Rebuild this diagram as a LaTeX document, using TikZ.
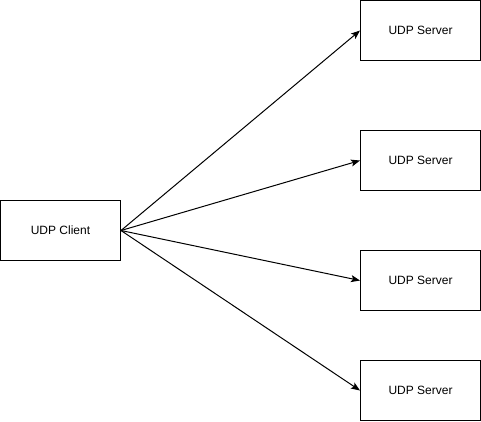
\documentclass[tikz,border=0pt]{standalone}
\usepackage{fontspec}
\setmainfont{Liberation Sans}
\usetikzlibrary{arrows.meta}
\begin{document}
\begin{tikzpicture}[x=1pt,y=-1pt,
  box/.style={draw=black,line width=1pt,fill=white,minimum width=120pt,minimum height=60pt,inner sep=0pt,font=\fontsize{12pt}{14pt}\selectfont},
  conn/.style={draw=black,line width=1pt,-{Stealth[length=9pt,width=7pt,inset=2pt]}}]
\useasboundingbox (0,0) rectangle (481,421);
\node[box] (c) at (60.5,230.5) {UDP Client};
\node[box] (s1) at (420.5,30.5) {UDP Server};
\node[box] (s2) at (420.5,160.5) {UDP Server};
\node[box] (s3) at (420.5,280.5) {UDP Server};
\node[box] (s4) at (420.5,390.5) {UDP Server};
\foreach \s in {s1,s2,s3,s4}{\draw[conn] (c.east) -- (\s.west);}
\end{tikzpicture}
\end{document}
